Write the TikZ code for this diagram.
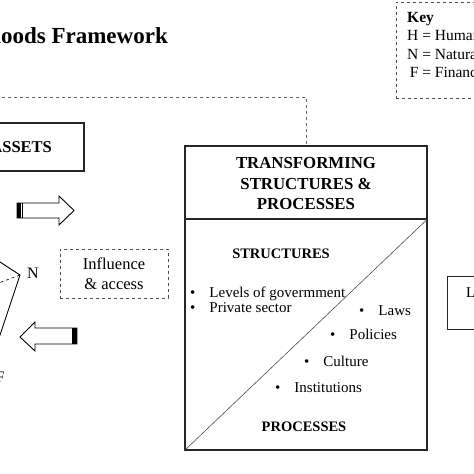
\documentclass[tikz,border=0pt]{standalone}
\usepackage{fontspec}
\setmainfont{Liberation Serif}
\usetikzlibrary{positioning,calc}
\begin{document}
\begin{tikzpicture}[
    x=1pt,y=-1pt,
    box/.style={draw=black!85,line width=1.1pt,inner sep=0pt},
    keybox/.style={draw=black!70,dashed,line width=0.8pt,inner sep=0pt},
    link/.style={draw=black!60,dashed,line width=0.8pt},
    hollow/.style={draw=black,line width=0.9pt,fill=white,line join=miter},
    head/.style={font=\fontsize{16.8}{20.5}\selectfont\bfseries,align=center},
    sub/.style={font=\fontsize{14.5}{17}\selectfont\bfseries,anchor=base},
    item/.style={font=\fontsize{15}{17}\selectfont,anchor=base west,inner sep=0pt},
    lbl/.style={font=\fontsize{16}{19}\selectfont,inner sep=0pt}
    ]
    \useasboundingbox (0,0) rectangle (474,474);

    % Title and key
    \node[anchor=base east,inner sep=0pt,font=\fontsize{23}{27}\selectfont\bfseries] (title) at (168,43) {Sustainable Livelihoods Framework};
    \node[keybox,anchor=north west,minimum width=130pt,minimum height=96pt] (key) at (396,2) {};
    \node[anchor=north west,align=left,inner sep=0pt,font=\fontsize{15.5}{18.5}\selectfont] (keytxt) at (407,12)
        {\textbf{Key}\\H = Human capital\\N = Natural capital\\\,F = Financial capital};

    % Assets side
    \node[box,minimum width=238pt,minimum height=48pt,font=\fontsize{16.5}{19}\selectfont\bfseries] (assets) at (-35,147) {LIVELIHOOD ASSETS};
    \coordinate (nv) at (20,275);
    \draw[line width=0.9pt] (-20,249) -- (nv) -- (-5,350);
    \draw[dashed,line width=0.6pt] (nv) -- (-20,290);
    \node[lbl,right=7pt of nv,yshift=2pt] (nlab) {N};
    \node[lbl] (flab) at (0,377) {F};

    % Block arrows
    \draw[hollow] (17,203) -- (59,203) -- (59,196) -- (74,210.5) -- (59,225) -- (59,218) -- (17,218) -- cycle;
    \fill (17,203) rectangle (21,218);
    \draw[line width=0.8pt] (22.5,203) -- (22.5,218);
    \draw[hollow] (77,328) -- (35,328) -- (35,322) -- (20,337) -- (35,351) -- (35,344) -- (77,344) -- cycle;
    \fill (72,328) rectangle (77,344);

    \node[keybox,minimum width=108pt,minimum height=49pt,align=center,font=\fontsize{16.5}{20}\selectfont] (infl) at (114,273.5) {Influence\\\& access};

    % Transforming structures and processes
    \node[box,minimum width=242pt,minimum height=304pt] (tsp) at (306,298) {};
    \coordinate (sepL) at (185,219);
    \draw[box] (sepL) -- (sepL -| tsp.east);
    \draw[draw=black!70,line width=0.6pt] (tsp.south west) -- (sepL -| tsp.east);
    \node[head] (tsphead) at (306,184) {TRANSFORMING\\STRUCTURES \&\\PROCESSES};
    \draw[link] (-10,97) -| (tsp.north);

    \node[sub] (struct) at (281,258) {STRUCTURES};
    \node[item] (gov) at (190,297) {\textbullet\hspace{14pt}Levels of govermment};
    \node[item] (priv) at (190,312) {\textbullet\hspace{14pt}Private sector};
    \node[item] (laws) at (359,315) {\textbullet\hspace{14pt}Laws};
    \node[item] (pol) at (330,339) {\textbullet\hspace{14pt}Policies};
    \node[item] (cult) at (304,366) {\textbullet\hspace{14pt}Culture};
    \node[item] (inst) at (275,392) {\textbullet\hspace{14pt}Institutions};
    \node[sub] (proc) at (304,431) {PROCESSES};

    % Strategies box on the right
    \node[box,anchor=north west,minimum width=120pt,minimum height=53pt] (strat) at (447,276) {};
    \node[item] (strattxt) at (466,297) {Livelihood strategies};
\end{tikzpicture}
\end{document}
